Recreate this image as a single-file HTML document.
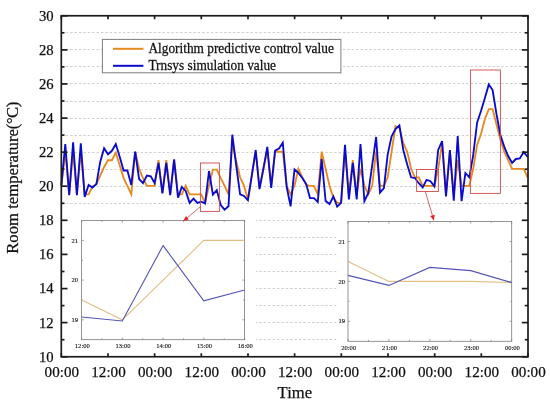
<!DOCTYPE html><html><head><meta charset="utf-8"><title>Room temperature</title><style>html,body{margin:0;padding:0;background:#fff}svg{display:block}text{font-family:"Liberation Serif",serif;fill:#111;stroke:#111;stroke-width:0.25px}</style></head><body>
<svg width="550" height="404" viewBox="0 0 550 404">
<rect width="550" height="404" fill="#fff"/>
<line x1="61.3" x2="528.0" y1="339.5" y2="339.5" stroke="#d0d0d0" stroke-width="1" stroke-dasharray="2.5 1.9"/>
<line x1="61.3" x2="528.0" y1="322.5" y2="322.5" stroke="#d0d0d0" stroke-width="1" stroke-dasharray="2.5 1.9"/>
<line x1="61.3" x2="528.0" y1="305.5" y2="305.5" stroke="#d0d0d0" stroke-width="1" stroke-dasharray="2.5 1.9"/>
<line x1="61.3" x2="528.0" y1="288.5" y2="288.5" stroke="#d0d0d0" stroke-width="1" stroke-dasharray="2.5 1.9"/>
<line x1="61.3" x2="528.0" y1="271.5" y2="271.5" stroke="#d0d0d0" stroke-width="1" stroke-dasharray="2.5 1.9"/>
<line x1="61.3" x2="528.0" y1="254.5" y2="254.5" stroke="#d0d0d0" stroke-width="1" stroke-dasharray="2.5 1.9"/>
<line x1="61.3" x2="528.0" y1="237.5" y2="237.5" stroke="#d0d0d0" stroke-width="1" stroke-dasharray="2.5 1.9"/>
<line x1="61.3" x2="528.0" y1="220.5" y2="220.5" stroke="#d0d0d0" stroke-width="1" stroke-dasharray="2.5 1.9"/>
<line x1="61.3" x2="528.0" y1="203.5" y2="203.5" stroke="#d0d0d0" stroke-width="1" stroke-dasharray="2.5 1.9"/>
<line x1="61.3" x2="528.0" y1="186.5" y2="186.5" stroke="#d0d0d0" stroke-width="1" stroke-dasharray="2.5 1.9"/>
<line x1="61.3" x2="528.0" y1="169.5" y2="169.5" stroke="#d0d0d0" stroke-width="1" stroke-dasharray="2.5 1.9"/>
<line x1="61.3" x2="528.0" y1="152.5" y2="152.5" stroke="#d0d0d0" stroke-width="1" stroke-dasharray="2.5 1.9"/>
<line x1="61.3" x2="528.0" y1="135.5" y2="135.5" stroke="#d0d0d0" stroke-width="1" stroke-dasharray="2.5 1.9"/>
<line x1="61.3" x2="528.0" y1="118.5" y2="118.5" stroke="#d0d0d0" stroke-width="1" stroke-dasharray="2.5 1.9"/>
<line x1="61.3" x2="528.0" y1="101.5" y2="101.5" stroke="#d0d0d0" stroke-width="1" stroke-dasharray="2.5 1.9"/>
<line x1="61.3" x2="528.0" y1="83.5" y2="83.5" stroke="#d0d0d0" stroke-width="1" stroke-dasharray="2.5 1.9"/>
<line x1="61.3" x2="528.0" y1="66.5" y2="66.5" stroke="#d0d0d0" stroke-width="1" stroke-dasharray="2.5 1.9"/>
<line x1="61.3" x2="528.0" y1="49.5" y2="49.5" stroke="#d0d0d0" stroke-width="1" stroke-dasharray="2.5 1.9"/>
<line x1="61.3" x2="528.0" y1="32.5" y2="32.5" stroke="#d0d0d0" stroke-width="1" stroke-dasharray="2.5 1.9"/>
<polyline points="61.4,185.8 65.3,151.7 69.2,194.3 73.1,151.7 76.9,194.3 80.8,151.7 84.7,194.3 88.6,194.3 92.5,186.7 96.4,184.1 100.2,175.6 104.1,167.0 108.0,160.2 111.9,160.2 115.8,152.6 119.7,165.3 123.6,178.1 127.4,185.8 131.3,194.3 135.2,151.7 139.1,168.8 143.0,178.1 146.9,185.8 150.8,185.8 154.6,185.8 158.5,160.2 162.4,192.6 166.3,160.2 170.2,194.3 174.1,160.2 178.0,194.3 181.8,194.3 185.7,185.8 189.6,194.3 193.5,194.3 197.4,194.3 201.3,194.3 205.1,202.9 209.0,185.8 212.9,169.6 216.8,169.6 220.7,178.1 224.6,185.8 228.5,194.3 232.3,143.2 236.2,161.1 240.1,177.3 244.0,185.8 247.9,199.4 251.8,175.6 255.7,151.7 259.5,187.5 263.4,168.8 267.3,150.0 271.2,185.8 275.1,151.7 279.0,151.7 282.8,151.7 286.7,185.8 290.6,194.3 294.5,185.8 298.4,168.8 302.3,177.3 306.2,184.9 310.0,185.8 313.9,185.8 317.8,194.3 321.7,151.7 325.6,168.8 329.5,185.8 333.4,197.7 337.2,202.9 341.1,202.9 345.0,151.7 348.9,194.3 352.8,160.2 356.7,194.3 360.5,168.8 364.4,185.8 368.3,194.3 372.2,185.8 376.1,151.7 380.0,185.8 383.9,185.8 387.7,177.3 391.6,151.7 395.5,126.1 399.4,127.8 403.3,143.2 407.2,151.7 411.1,168.8 414.9,177.3 418.8,177.3 422.7,185.8 426.6,185.8 430.5,185.8 434.4,186.3 438.2,168.8 442.1,143.2 446.0,194.3 449.9,151.7 453.8,194.3 457.7,160.2 461.6,185.8 465.4,185.8 469.3,185.8 473.2,168.8 477.1,144.9 481.0,134.0 484.9,119.0 488.8,109.1 492.6,109.1 496.5,124.4 500.4,139.8 504.3,151.7 508.2,160.2 512.1,168.8 515.9,168.8 519.8,168.8 523.7,168.8 527.6,177.3" fill="none" stroke="#e58a1f" stroke-width="1.85" stroke-linejoin="miter"/>
<polyline points="61.4,184.9 65.3,144.0 69.2,195.2 73.1,142.3 76.9,195.2 80.8,143.2 84.7,196.9 88.6,184.9 92.5,187.5 96.4,184.1 100.2,161.9 104.1,148.3 108.0,154.3 111.9,150.8 115.8,144.0 119.7,156.8 123.6,170.5 127.4,170.5 131.3,184.9 135.2,151.7 139.1,179.0 143.0,183.2 146.9,175.6 150.8,176.4 154.6,183.2 158.5,162.8 162.4,193.5 166.3,162.8 170.2,195.2 174.1,159.4 178.0,197.7 181.8,187.0 185.7,190.9 189.6,202.9 193.5,198.6 197.4,202.9 201.3,201.7 205.1,203.4 209.0,171.0 212.9,194.7 216.8,190.1 220.7,205.1 224.6,209.7 228.5,206.3 232.3,134.7 236.2,165.3 240.1,194.3 244.0,196.0 247.9,200.3 251.8,175.6 255.7,150.0 259.5,189.2 263.4,168.8 267.3,146.9 271.2,188.0 275.1,150.7 279.0,148.6 282.8,142.7 286.7,187.0 290.6,206.3 294.5,169.4 298.4,173.0 302.3,178.0 306.2,184.1 310.0,198.1 313.9,198.1 317.8,202.0 321.7,159.0 325.6,201.1 329.5,204.0 333.4,196.5 337.2,206.6 341.1,202.9 345.0,144.9 348.9,199.4 352.8,162.8 356.7,199.4 360.5,144.0 364.4,201.1 368.3,193.0 372.2,165.3 376.1,137.0 380.0,192.6 383.9,188.0 387.7,154.3 391.6,136.4 395.5,129.0 399.4,125.4 403.3,150.0 407.2,164.5 411.1,177.3 414.9,178.0 418.8,183.2 422.7,187.5 426.6,179.8 430.5,181.2 434.4,186.3 438.2,150.0 442.1,141.0 446.0,196.5 449.9,150.0 453.8,200.6 457.7,136.0 461.6,201.1 465.4,173.0 469.3,177.3 473.2,155.1 477.1,122.7 481.0,111.0 484.9,98.0 488.8,84.4 492.6,90.0 496.5,114.2 500.4,135.0 504.3,146.9 508.2,156.0 512.1,163.0 515.9,159.0 519.8,158.5 523.7,152.0 527.6,156.8" fill="none" stroke="#0b0bcc" stroke-width="1.85" stroke-linejoin="miter"/>
<rect x="102.4" y="39.4" width="238.5" height="33.4" fill="#fff" stroke="#7d7d7d" stroke-width="1"/>
<line x1="113" x2="143.4" y1="48.8" y2="48.8" stroke="#e58a1f" stroke-width="2"/>
<line x1="113" x2="143.4" y1="65.8" y2="65.8" stroke="#0b0bcc" stroke-width="2"/>
<text transform="translate(148.4,53) scale(0.939,1)" font-size="14.2">Algorithm predictive control value</text>
<text transform="translate(148.4,69.8) scale(0.939,1)" font-size="14.2">Trnsys simulation value</text>
<rect x="470.4" y="70" width="30" height="123.4" fill="none" stroke="#cf4a4a" stroke-width="0.9"/>
<rect x="200.4" y="163" width="19" height="48.4" fill="none" stroke="#cf4a4a" stroke-width="0.9"/>
<rect x="416.6" y="169.5" width="21.8" height="22" fill="none" stroke="#cf4a4a" stroke-width="0.9"/>
<rect x="62.2" y="213" width="193.8" height="142.4" fill="#fff"/>
<rect x="336.6" y="213" width="190.3" height="142.4" fill="#fff"/>
<rect x="81.6" y="220.5" width="163.0" height="119.2" fill="#fff" stroke="#7a7a7a" stroke-width="0.8"/>
<line x1="81.6" x2="81.6" y1="339.7" y2="337.5" stroke="#7a7a7a" stroke-width="0.7"/>
<line x1="81.6" x2="81.6" y1="220.5" y2="222.7" stroke="#7a7a7a" stroke-width="0.7"/>
<line x1="102.0" x2="102.0" y1="339.7" y2="338.3" stroke="#7a7a7a" stroke-width="0.7"/>
<line x1="102.0" x2="102.0" y1="220.5" y2="221.9" stroke="#7a7a7a" stroke-width="0.7"/>
<line x1="122.3" x2="122.3" y1="339.7" y2="337.5" stroke="#7a7a7a" stroke-width="0.7"/>
<line x1="122.3" x2="122.3" y1="220.5" y2="222.7" stroke="#7a7a7a" stroke-width="0.7"/>
<line x1="142.7" x2="142.7" y1="339.7" y2="338.3" stroke="#7a7a7a" stroke-width="0.7"/>
<line x1="142.7" x2="142.7" y1="220.5" y2="221.9" stroke="#7a7a7a" stroke-width="0.7"/>
<line x1="163.1" x2="163.1" y1="339.7" y2="337.5" stroke="#7a7a7a" stroke-width="0.7"/>
<line x1="163.1" x2="163.1" y1="220.5" y2="222.7" stroke="#7a7a7a" stroke-width="0.7"/>
<line x1="183.5" x2="183.5" y1="339.7" y2="338.3" stroke="#7a7a7a" stroke-width="0.7"/>
<line x1="183.5" x2="183.5" y1="220.5" y2="221.9" stroke="#7a7a7a" stroke-width="0.7"/>
<line x1="203.8" x2="203.8" y1="339.7" y2="337.5" stroke="#7a7a7a" stroke-width="0.7"/>
<line x1="203.8" x2="203.8" y1="220.5" y2="222.7" stroke="#7a7a7a" stroke-width="0.7"/>
<line x1="224.2" x2="224.2" y1="339.7" y2="338.3" stroke="#7a7a7a" stroke-width="0.7"/>
<line x1="224.2" x2="224.2" y1="220.5" y2="221.9" stroke="#7a7a7a" stroke-width="0.7"/>
<line x1="244.6" x2="244.6" y1="339.7" y2="337.5" stroke="#7a7a7a" stroke-width="0.7"/>
<line x1="244.6" x2="244.6" y1="220.5" y2="222.7" stroke="#7a7a7a" stroke-width="0.7"/>
<line x1="81.6" x2="83.8" y1="319.8" y2="319.8" stroke="#7a7a7a" stroke-width="0.7"/>
<line x1="244.6" x2="242.4" y1="319.8" y2="319.8" stroke="#7a7a7a" stroke-width="0.7"/>
<line x1="81.6" x2="83.0" y1="300.0" y2="300.0" stroke="#7a7a7a" stroke-width="0.7"/>
<line x1="244.6" x2="243.2" y1="300.0" y2="300.0" stroke="#7a7a7a" stroke-width="0.7"/>
<line x1="81.6" x2="83.8" y1="280.1" y2="280.1" stroke="#7a7a7a" stroke-width="0.7"/>
<line x1="244.6" x2="242.4" y1="280.1" y2="280.1" stroke="#7a7a7a" stroke-width="0.7"/>
<line x1="81.6" x2="83.0" y1="260.3" y2="260.3" stroke="#7a7a7a" stroke-width="0.7"/>
<line x1="244.6" x2="243.2" y1="260.3" y2="260.3" stroke="#7a7a7a" stroke-width="0.7"/>
<line x1="81.6" x2="83.8" y1="240.4" y2="240.4" stroke="#7a7a7a" stroke-width="0.7"/>
<line x1="244.6" x2="242.4" y1="240.4" y2="240.4" stroke="#7a7a7a" stroke-width="0.7"/>
<text x="78" y="321.9" font-size="6.6" text-anchor="end" style="stroke-width:0.12px">19</text>
<text x="78" y="282.2" font-size="6.6" text-anchor="end" style="stroke-width:0.12px">20</text>
<text x="78" y="242.5" font-size="6.6" text-anchor="end" style="stroke-width:0.12px">21</text>
<text x="82.3" y="348.4" font-size="6.6" text-anchor="middle" style="stroke-width:0.12px">12:00</text>
<text x="123.0" y="348.4" font-size="6.6" text-anchor="middle" style="stroke-width:0.12px">13:00</text>
<text x="163.8" y="348.4" font-size="6.6" text-anchor="middle" style="stroke-width:0.12px">14:00</text>
<text x="204.5" y="348.4" font-size="6.6" text-anchor="middle" style="stroke-width:0.12px">15:00</text>
<text x="245.3" y="348.4" font-size="6.6" text-anchor="middle" style="stroke-width:0.12px">16:00</text>
<polyline points="81.6,300.0 122.3,319.8 163.1,280.1 203.8,240.4 244.6,240.4" fill="none" stroke="#dfbf85" stroke-width="1.1"/>
<polyline points="81.6,317.0 122.3,321.0 163.1,245.6 203.8,300.8 244.6,290.0" fill="none" stroke="#5454b4" stroke-width="1.1"/>
<rect x="348.0" y="221.5" width="163.7" height="119.8" fill="#fff" stroke="#7a7a7a" stroke-width="0.8"/>
<line x1="348.0" x2="348.0" y1="341.3" y2="339.1" stroke="#7a7a7a" stroke-width="0.7"/>
<line x1="348.0" x2="348.0" y1="221.5" y2="223.7" stroke="#7a7a7a" stroke-width="0.7"/>
<line x1="368.5" x2="368.5" y1="341.3" y2="339.90000000000003" stroke="#7a7a7a" stroke-width="0.7"/>
<line x1="368.5" x2="368.5" y1="221.5" y2="222.9" stroke="#7a7a7a" stroke-width="0.7"/>
<line x1="388.9" x2="388.9" y1="341.3" y2="339.1" stroke="#7a7a7a" stroke-width="0.7"/>
<line x1="388.9" x2="388.9" y1="221.5" y2="223.7" stroke="#7a7a7a" stroke-width="0.7"/>
<line x1="409.4" x2="409.4" y1="341.3" y2="339.90000000000003" stroke="#7a7a7a" stroke-width="0.7"/>
<line x1="409.4" x2="409.4" y1="221.5" y2="222.9" stroke="#7a7a7a" stroke-width="0.7"/>
<line x1="429.9" x2="429.9" y1="341.3" y2="339.1" stroke="#7a7a7a" stroke-width="0.7"/>
<line x1="429.9" x2="429.9" y1="221.5" y2="223.7" stroke="#7a7a7a" stroke-width="0.7"/>
<line x1="450.3" x2="450.3" y1="341.3" y2="339.90000000000003" stroke="#7a7a7a" stroke-width="0.7"/>
<line x1="450.3" x2="450.3" y1="221.5" y2="222.9" stroke="#7a7a7a" stroke-width="0.7"/>
<line x1="470.8" x2="470.8" y1="341.3" y2="339.1" stroke="#7a7a7a" stroke-width="0.7"/>
<line x1="470.8" x2="470.8" y1="221.5" y2="223.7" stroke="#7a7a7a" stroke-width="0.7"/>
<line x1="491.2" x2="491.2" y1="341.3" y2="339.90000000000003" stroke="#7a7a7a" stroke-width="0.7"/>
<line x1="491.2" x2="491.2" y1="221.5" y2="222.9" stroke="#7a7a7a" stroke-width="0.7"/>
<line x1="511.7" x2="511.7" y1="341.3" y2="339.1" stroke="#7a7a7a" stroke-width="0.7"/>
<line x1="511.7" x2="511.7" y1="221.5" y2="223.7" stroke="#7a7a7a" stroke-width="0.7"/>
<line x1="348.0" x2="350.2" y1="321.3" y2="321.3" stroke="#7a7a7a" stroke-width="0.7"/>
<line x1="511.7" x2="509.5" y1="321.3" y2="321.3" stroke="#7a7a7a" stroke-width="0.7"/>
<line x1="348.0" x2="349.4" y1="301.4" y2="301.4" stroke="#7a7a7a" stroke-width="0.7"/>
<line x1="511.7" x2="510.3" y1="301.4" y2="301.4" stroke="#7a7a7a" stroke-width="0.7"/>
<line x1="348.0" x2="350.2" y1="281.4" y2="281.4" stroke="#7a7a7a" stroke-width="0.7"/>
<line x1="511.7" x2="509.5" y1="281.4" y2="281.4" stroke="#7a7a7a" stroke-width="0.7"/>
<line x1="348.0" x2="349.4" y1="261.4" y2="261.4" stroke="#7a7a7a" stroke-width="0.7"/>
<line x1="511.7" x2="510.3" y1="261.4" y2="261.4" stroke="#7a7a7a" stroke-width="0.7"/>
<line x1="348.0" x2="350.2" y1="241.5" y2="241.5" stroke="#7a7a7a" stroke-width="0.7"/>
<line x1="511.7" x2="509.5" y1="241.5" y2="241.5" stroke="#7a7a7a" stroke-width="0.7"/>
<text x="345" y="323.4" font-size="6.6" text-anchor="end" style="stroke-width:0.12px">19</text>
<text x="345" y="283.5" font-size="6.6" text-anchor="end" style="stroke-width:0.12px">20</text>
<text x="345" y="243.6" font-size="6.6" text-anchor="end" style="stroke-width:0.12px">21</text>
<text x="348.7" y="350.0" font-size="6.6" text-anchor="middle" style="stroke-width:0.12px">20:00</text>
<text x="389.6" y="350.0" font-size="6.6" text-anchor="middle" style="stroke-width:0.12px">21:00</text>
<text x="430.6" y="350.0" font-size="6.6" text-anchor="middle" style="stroke-width:0.12px">22:00</text>
<text x="471.5" y="350.0" font-size="6.6" text-anchor="middle" style="stroke-width:0.12px">23:00</text>
<text x="512.4" y="350.0" font-size="6.6" text-anchor="middle" style="stroke-width:0.12px">00:00</text>
<polyline points="348.0,261.4 388.9,281.4 429.9,281.4 470.8,281.4 511.7,282.6" fill="none" stroke="#dfbf85" stroke-width="1.1"/>
<polyline points="348.0,275.4 388.9,285.4 429.9,267.4 470.8,270.6 511.7,282.6" fill="none" stroke="#5454b4" stroke-width="1.1"/>
<line x1="200.4" y1="206.6" x2="187.5" y2="217.6" stroke="#cf4a4a" stroke-width="0.85"/>
<polygon points="183.2,221.2 186.0,215.9 188.9,219.3" fill="#e61e28"/>
<line x1="425.3" y1="191.5" x2="432.4" y2="215.3" stroke="#cf4a4a" stroke-width="0.85"/>
<polygon points="434,220.7 430.2,216.0 434.6,214.7" fill="#e61e28"/>
<rect x="61.3" y="15.75" width="466.7" height="341.0" fill="none" stroke="#1c1c1c" stroke-width="1.7"/>
<line x1="61.3" x2="61.3" y1="356.75" y2="353.25" stroke="#1c1c1c" stroke-width="1.7"/>
<line x1="61.3" x2="61.3" y1="15.75" y2="19.25" stroke="#1c1c1c" stroke-width="1.7"/>
<text x="61.8" y="376.7" font-size="15.1" text-anchor="middle">00:00</text>
<line x1="108.0" x2="108.0" y1="356.75" y2="353.25" stroke="#1c1c1c" stroke-width="1.7"/>
<line x1="108.0" x2="108.0" y1="15.75" y2="19.25" stroke="#1c1c1c" stroke-width="1.7"/>
<text x="108.5" y="376.7" font-size="15.1" text-anchor="middle">12:00</text>
<line x1="154.6" x2="154.6" y1="356.75" y2="353.25" stroke="#1c1c1c" stroke-width="1.7"/>
<line x1="154.6" x2="154.6" y1="15.75" y2="19.25" stroke="#1c1c1c" stroke-width="1.7"/>
<text x="155.1" y="376.7" font-size="15.1" text-anchor="middle">00:00</text>
<line x1="201.3" x2="201.3" y1="356.75" y2="353.25" stroke="#1c1c1c" stroke-width="1.7"/>
<line x1="201.3" x2="201.3" y1="15.75" y2="19.25" stroke="#1c1c1c" stroke-width="1.7"/>
<text x="201.8" y="376.7" font-size="15.1" text-anchor="middle">12:00</text>
<line x1="248.0" x2="248.0" y1="356.75" y2="353.25" stroke="#1c1c1c" stroke-width="1.7"/>
<line x1="248.0" x2="248.0" y1="15.75" y2="19.25" stroke="#1c1c1c" stroke-width="1.7"/>
<text x="248.5" y="376.7" font-size="15.1" text-anchor="middle">00:00</text>
<line x1="294.6" x2="294.6" y1="356.75" y2="353.25" stroke="#1c1c1c" stroke-width="1.7"/>
<line x1="294.6" x2="294.6" y1="15.75" y2="19.25" stroke="#1c1c1c" stroke-width="1.7"/>
<text x="295.1" y="376.7" font-size="15.1" text-anchor="middle">12:00</text>
<line x1="341.3" x2="341.3" y1="356.75" y2="353.25" stroke="#1c1c1c" stroke-width="1.7"/>
<line x1="341.3" x2="341.3" y1="15.75" y2="19.25" stroke="#1c1c1c" stroke-width="1.7"/>
<text x="341.8" y="376.7" font-size="15.1" text-anchor="middle">00:00</text>
<line x1="388.0" x2="388.0" y1="356.75" y2="353.25" stroke="#1c1c1c" stroke-width="1.7"/>
<line x1="388.0" x2="388.0" y1="15.75" y2="19.25" stroke="#1c1c1c" stroke-width="1.7"/>
<text x="388.5" y="376.7" font-size="15.1" text-anchor="middle">12:00</text>
<line x1="434.7" x2="434.7" y1="356.75" y2="353.25" stroke="#1c1c1c" stroke-width="1.7"/>
<line x1="434.7" x2="434.7" y1="15.75" y2="19.25" stroke="#1c1c1c" stroke-width="1.7"/>
<text x="435.2" y="376.7" font-size="15.1" text-anchor="middle">00:00</text>
<line x1="481.3" x2="481.3" y1="356.75" y2="353.25" stroke="#1c1c1c" stroke-width="1.7"/>
<line x1="481.3" x2="481.3" y1="15.75" y2="19.25" stroke="#1c1c1c" stroke-width="1.7"/>
<text x="481.8" y="376.7" font-size="15.1" text-anchor="middle">12:00</text>
<line x1="528.0" x2="528.0" y1="356.75" y2="353.25" stroke="#1c1c1c" stroke-width="1.7"/>
<line x1="528.0" x2="528.0" y1="15.75" y2="19.25" stroke="#1c1c1c" stroke-width="1.7"/>
<text x="528.5" y="376.7" font-size="15.1" text-anchor="middle">00:00</text>
<line x1="61.3" x2="67.5" y1="356.8" y2="356.8" stroke="#1c1c1c" stroke-width="1.7"/>
<line x1="528.0" x2="521.8" y1="356.8" y2="356.8" stroke="#1c1c1c" stroke-width="1.7"/>
<text x="53.6" y="361.6" font-size="14.67" text-anchor="end">10</text>
<line x1="61.3" x2="64.5" y1="339.7" y2="339.7" stroke="#1c1c1c" stroke-width="1.7"/>
<line x1="528.0" x2="524.8" y1="339.7" y2="339.7" stroke="#1c1c1c" stroke-width="1.7"/>
<line x1="61.3" x2="67.5" y1="322.6" y2="322.6" stroke="#1c1c1c" stroke-width="1.7"/>
<line x1="528.0" x2="521.8" y1="322.6" y2="322.6" stroke="#1c1c1c" stroke-width="1.7"/>
<text x="53.6" y="327.5" font-size="14.67" text-anchor="end">12</text>
<line x1="61.3" x2="64.5" y1="305.6" y2="305.6" stroke="#1c1c1c" stroke-width="1.7"/>
<line x1="528.0" x2="524.8" y1="305.6" y2="305.6" stroke="#1c1c1c" stroke-width="1.7"/>
<line x1="61.3" x2="67.5" y1="288.6" y2="288.6" stroke="#1c1c1c" stroke-width="1.7"/>
<line x1="528.0" x2="521.8" y1="288.6" y2="288.6" stroke="#1c1c1c" stroke-width="1.7"/>
<text x="53.6" y="293.4" font-size="14.67" text-anchor="end">14</text>
<line x1="61.3" x2="64.5" y1="271.5" y2="271.5" stroke="#1c1c1c" stroke-width="1.7"/>
<line x1="528.0" x2="524.8" y1="271.5" y2="271.5" stroke="#1c1c1c" stroke-width="1.7"/>
<line x1="61.3" x2="67.5" y1="254.4" y2="254.4" stroke="#1c1c1c" stroke-width="1.7"/>
<line x1="528.0" x2="521.8" y1="254.4" y2="254.4" stroke="#1c1c1c" stroke-width="1.7"/>
<text x="53.6" y="259.3" font-size="14.67" text-anchor="end">16</text>
<line x1="61.3" x2="64.5" y1="237.4" y2="237.4" stroke="#1c1c1c" stroke-width="1.7"/>
<line x1="528.0" x2="524.8" y1="237.4" y2="237.4" stroke="#1c1c1c" stroke-width="1.7"/>
<line x1="61.3" x2="67.5" y1="220.3" y2="220.3" stroke="#1c1c1c" stroke-width="1.7"/>
<line x1="528.0" x2="521.8" y1="220.3" y2="220.3" stroke="#1c1c1c" stroke-width="1.7"/>
<text x="53.6" y="225.2" font-size="14.67" text-anchor="end">18</text>
<line x1="61.3" x2="64.5" y1="203.3" y2="203.3" stroke="#1c1c1c" stroke-width="1.7"/>
<line x1="528.0" x2="524.8" y1="203.3" y2="203.3" stroke="#1c1c1c" stroke-width="1.7"/>
<line x1="61.3" x2="67.5" y1="186.2" y2="186.2" stroke="#1c1c1c" stroke-width="1.7"/>
<line x1="528.0" x2="521.8" y1="186.2" y2="186.2" stroke="#1c1c1c" stroke-width="1.7"/>
<text x="53.6" y="191.2" font-size="14.67" text-anchor="end">20</text>
<line x1="61.3" x2="64.5" y1="169.2" y2="169.2" stroke="#1c1c1c" stroke-width="1.7"/>
<line x1="528.0" x2="524.8" y1="169.2" y2="169.2" stroke="#1c1c1c" stroke-width="1.7"/>
<line x1="61.3" x2="67.5" y1="152.2" y2="152.2" stroke="#1c1c1c" stroke-width="1.7"/>
<line x1="528.0" x2="521.8" y1="152.2" y2="152.2" stroke="#1c1c1c" stroke-width="1.7"/>
<text x="53.6" y="157.1" font-size="14.67" text-anchor="end">22</text>
<line x1="61.3" x2="64.5" y1="135.1" y2="135.1" stroke="#1c1c1c" stroke-width="1.7"/>
<line x1="528.0" x2="524.8" y1="135.1" y2="135.1" stroke="#1c1c1c" stroke-width="1.7"/>
<line x1="61.3" x2="67.5" y1="118.1" y2="118.1" stroke="#1c1c1c" stroke-width="1.7"/>
<line x1="528.0" x2="521.8" y1="118.1" y2="118.1" stroke="#1c1c1c" stroke-width="1.7"/>
<text x="53.6" y="123.0" font-size="14.67" text-anchor="end">24</text>
<line x1="61.3" x2="64.5" y1="101.0" y2="101.0" stroke="#1c1c1c" stroke-width="1.7"/>
<line x1="528.0" x2="524.8" y1="101.0" y2="101.0" stroke="#1c1c1c" stroke-width="1.7"/>
<line x1="61.3" x2="67.5" y1="83.9" y2="83.9" stroke="#1c1c1c" stroke-width="1.7"/>
<line x1="528.0" x2="521.8" y1="83.9" y2="83.9" stroke="#1c1c1c" stroke-width="1.7"/>
<text x="53.6" y="88.8" font-size="14.67" text-anchor="end">26</text>
<line x1="61.3" x2="64.5" y1="66.9" y2="66.9" stroke="#1c1c1c" stroke-width="1.7"/>
<line x1="528.0" x2="524.8" y1="66.9" y2="66.9" stroke="#1c1c1c" stroke-width="1.7"/>
<line x1="61.3" x2="67.5" y1="49.9" y2="49.9" stroke="#1c1c1c" stroke-width="1.7"/>
<line x1="528.0" x2="521.8" y1="49.9" y2="49.9" stroke="#1c1c1c" stroke-width="1.7"/>
<text x="53.6" y="54.8" font-size="14.67" text-anchor="end">28</text>
<line x1="61.3" x2="64.5" y1="32.8" y2="32.8" stroke="#1c1c1c" stroke-width="1.7"/>
<line x1="528.0" x2="524.8" y1="32.8" y2="32.8" stroke="#1c1c1c" stroke-width="1.7"/>
<line x1="61.3" x2="67.5" y1="15.8" y2="15.8" stroke="#1c1c1c" stroke-width="1.7"/>
<line x1="528.0" x2="521.8" y1="15.8" y2="15.8" stroke="#1c1c1c" stroke-width="1.7"/>
<text x="53.6" y="20.6" font-size="14.67" text-anchor="end">30</text>
<text x="294.8" y="398.2" font-size="16.6" text-anchor="middle">Time</text>
<text transform="translate(17.6,253.8) rotate(-90)" font-size="16.7">Room temperature<tspan letter-spacing="-0.5">(°C)</tspan></text>
</svg></body></html>
